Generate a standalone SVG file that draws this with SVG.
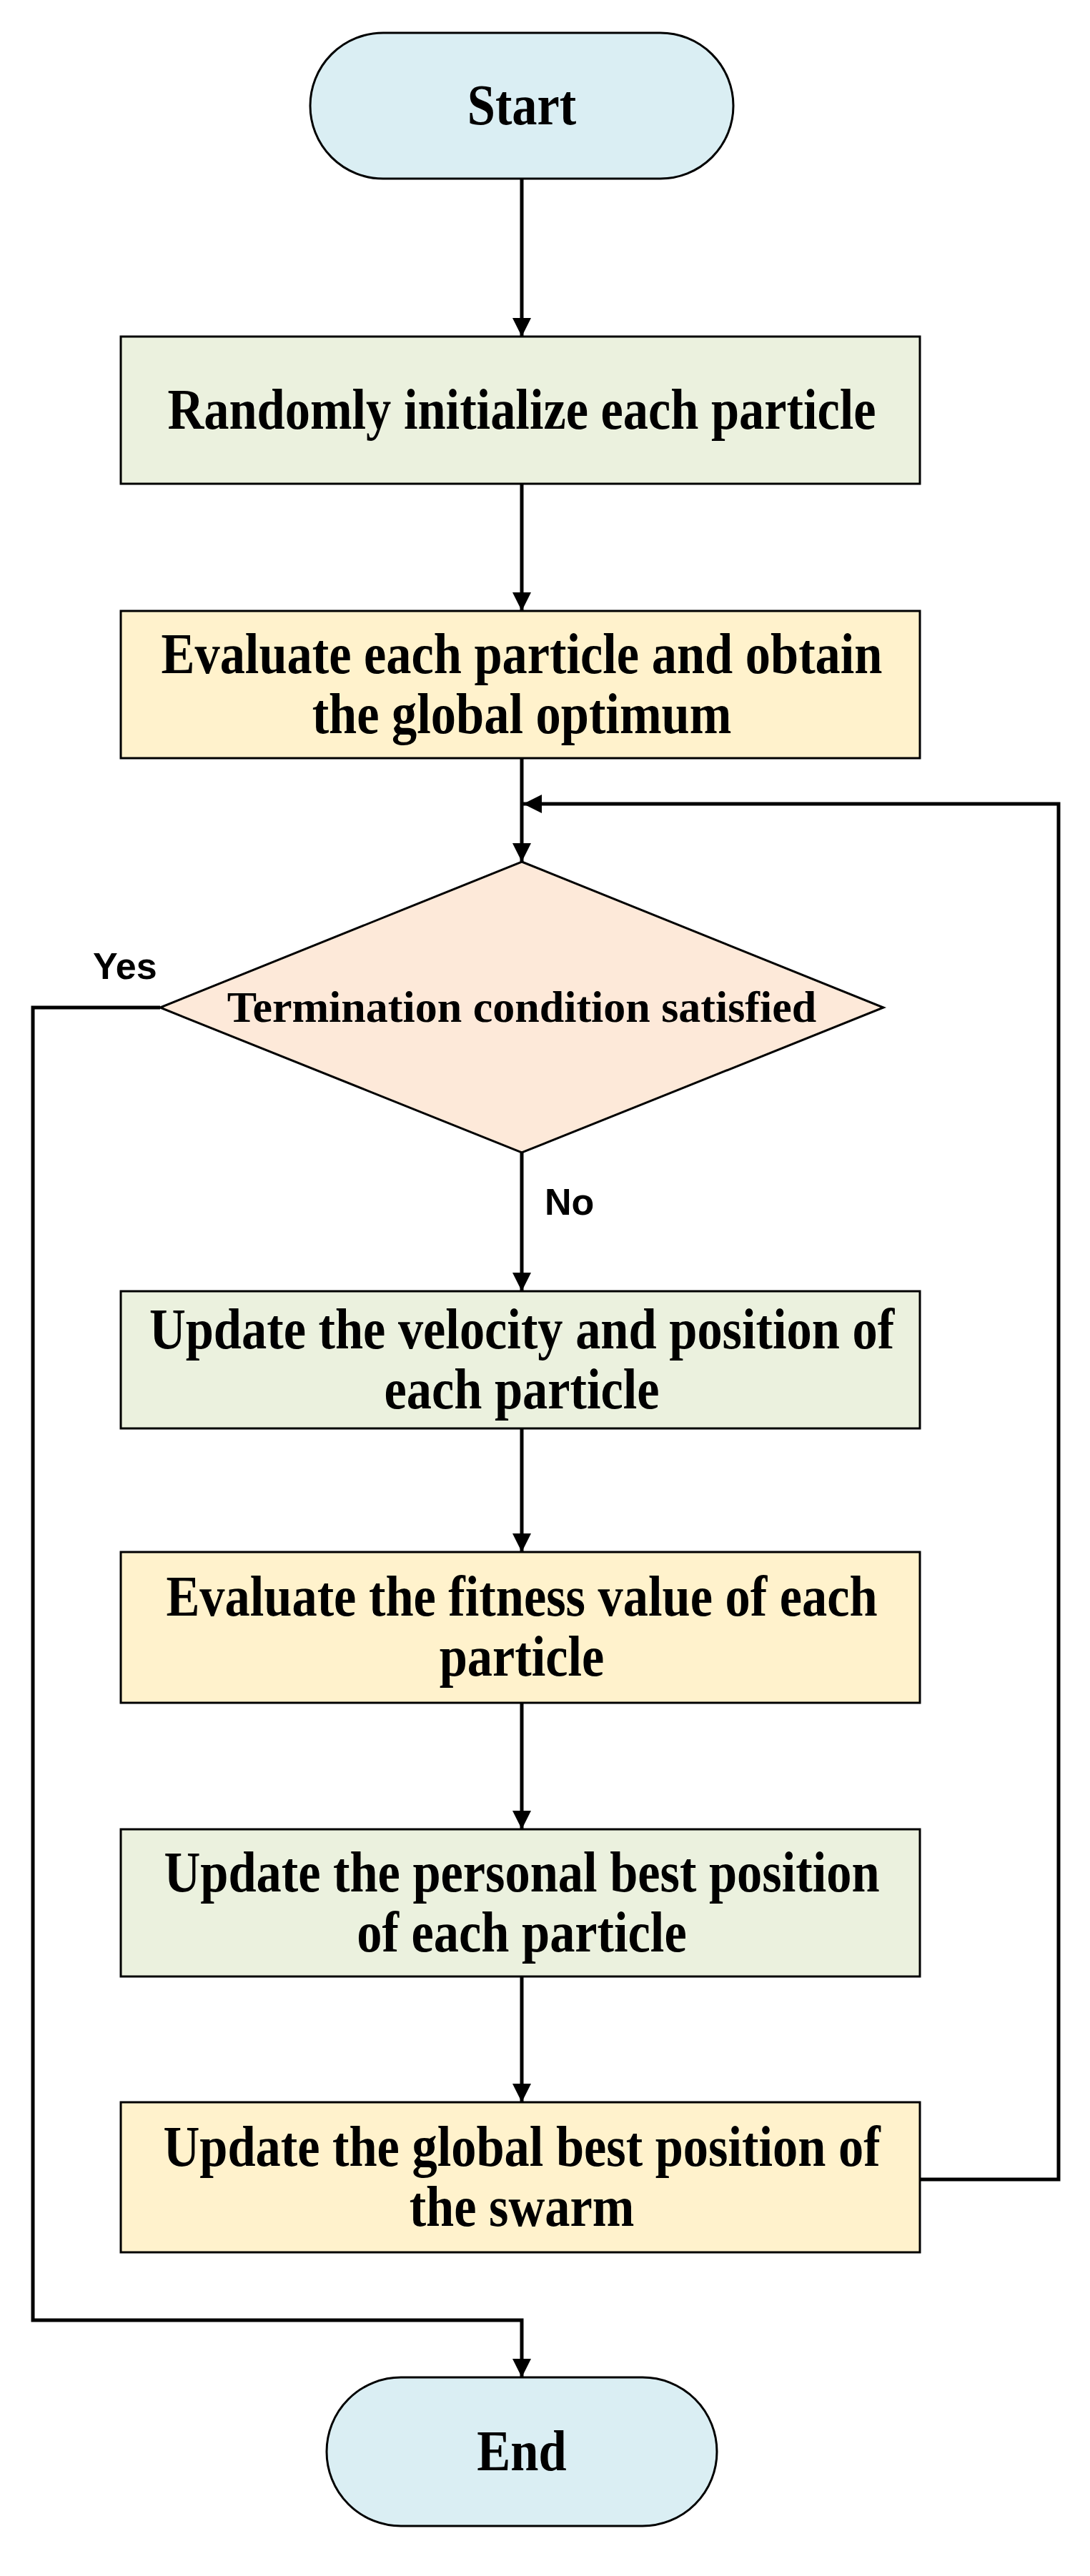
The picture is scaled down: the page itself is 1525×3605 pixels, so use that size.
<svg xmlns="http://www.w3.org/2000/svg" width="1525" height="3605" viewBox="0 0 1525 3605">
<style>
.n{stroke:#000;stroke-width:3}
.t{font-family:"Liberation Serif",serif;font-weight:bold;font-size:80px;text-anchor:middle;fill:#000}
.l{font-family:"Liberation Sans",sans-serif;font-weight:bold;font-size:52px;fill:#000}
.c{fill:none;stroke:#000;stroke-width:5}
</style>
<defs>
<marker id="ah" viewBox="0 0 10 10" refX="10" refY="5" markerWidth="26" markerHeight="30" orient="auto" markerUnits="userSpaceOnUse"><path d="M0,0 L10,5 L0,10 z" fill="#000"/></marker></defs>
<rect width="1525" height="3605" fill="#fff"/>
<g id="start"><rect class="n" x="434" y="46" width="592" height="204" rx="102" fill="#daeef3"/><g transform="translate(730 0) scale(0.88 1)"><text class="t" x="0" y="174">Start</text></g></g>
<g id="init"><rect class="n" x="169" y="471" width="1118" height="206" fill="#ebf1de"/><g transform="translate(730 0) scale(0.88 1)"><text class="t" x="0" y="600">Randomly initialize each particle</text></g></g>
<g id="eval1"><rect class="n" x="169" y="855" width="1118" height="206" fill="#fff2cc"/><g transform="translate(730 0) scale(0.88 1)"><text class="t" x="0" y="942">Evaluate each particle and obtain</text><text class="t" x="0" y="1026">the global optimum</text></g></g>
<g id="cond"><polygon class="n" points="730,1206 1236,1410 730,1613 224,1410" fill="#fde9d9"/><text class="t" x="730" y="1430" style="font-size:62px">Termination condition satisfied</text></g>
<g id="upd1"><rect class="n" x="169" y="1807" width="1118" height="192" fill="#ebf1de"/><g transform="translate(730 0) scale(0.88 1)"><text class="t" x="0" y="1887">Update the velocity and position of</text><text class="t" x="0" y="1971">each particle</text></g></g>
<g id="fit"><rect class="n" x="169" y="2172" width="1118" height="211" fill="#fff2cc"/><g transform="translate(730 0) scale(0.88 1)"><text class="t" x="0" y="2261">Evaluate the fitness value of each</text><text class="t" x="0" y="2345">particle</text></g></g>
<g id="pbest"><rect class="n" x="169" y="2560" width="1118" height="206" fill="#ebf1de"/><g transform="translate(730 0) scale(0.88 1)"><text class="t" x="0" y="2647">Update the personal best position</text><text class="t" x="0" y="2731">of each particle</text></g></g>
<g id="gbest"><rect class="n" x="169" y="2942" width="1118" height="210" fill="#fff2cc"/><g transform="translate(730 0) scale(0.88 1)"><text class="t" x="0" y="3031">Update the global best position of</text><text class="t" x="0" y="3115">the swarm</text></g></g>
<g id="end"><rect class="n" x="457" y="3327" width="546" height="208" rx="104" fill="#daeef3"/><g transform="translate(730 0) scale(0.88 1)"><text class="t" x="0" y="3457">End</text></g></g>
<g id="connectors">
<line class="c" x1="730" y1="250" x2="730" y2="471" marker-end="url(#ah)"/>
<line class="c" x1="730" y1="677" x2="730" y2="855" marker-end="url(#ah)"/>
<line class="c" x1="730" y1="1061" x2="730" y2="1206" marker-end="url(#ah)"/>
<line class="c" x1="730" y1="1613" x2="730" y2="1807" marker-end="url(#ah)"/>
<line class="c" x1="730" y1="1999" x2="730" y2="2172" marker-end="url(#ah)"/>
<line class="c" x1="730" y1="2383" x2="730" y2="2560" marker-end="url(#ah)"/>
<line class="c" x1="730" y1="2766" x2="730" y2="2942" marker-end="url(#ah)"/>
<polyline class="c" points="1287,3050 1481,3050 1481,1125 732,1125" marker-end="url(#ah)"/>
<polyline class="c" points="224,1410 46,1410 46,3247 730,3247 730,3327" marker-end="url(#ah)"/>
<text class="l" x="130" y="1370">Yes</text>
<text class="l" x="762" y="1700">No</text>
</g>
</svg>
